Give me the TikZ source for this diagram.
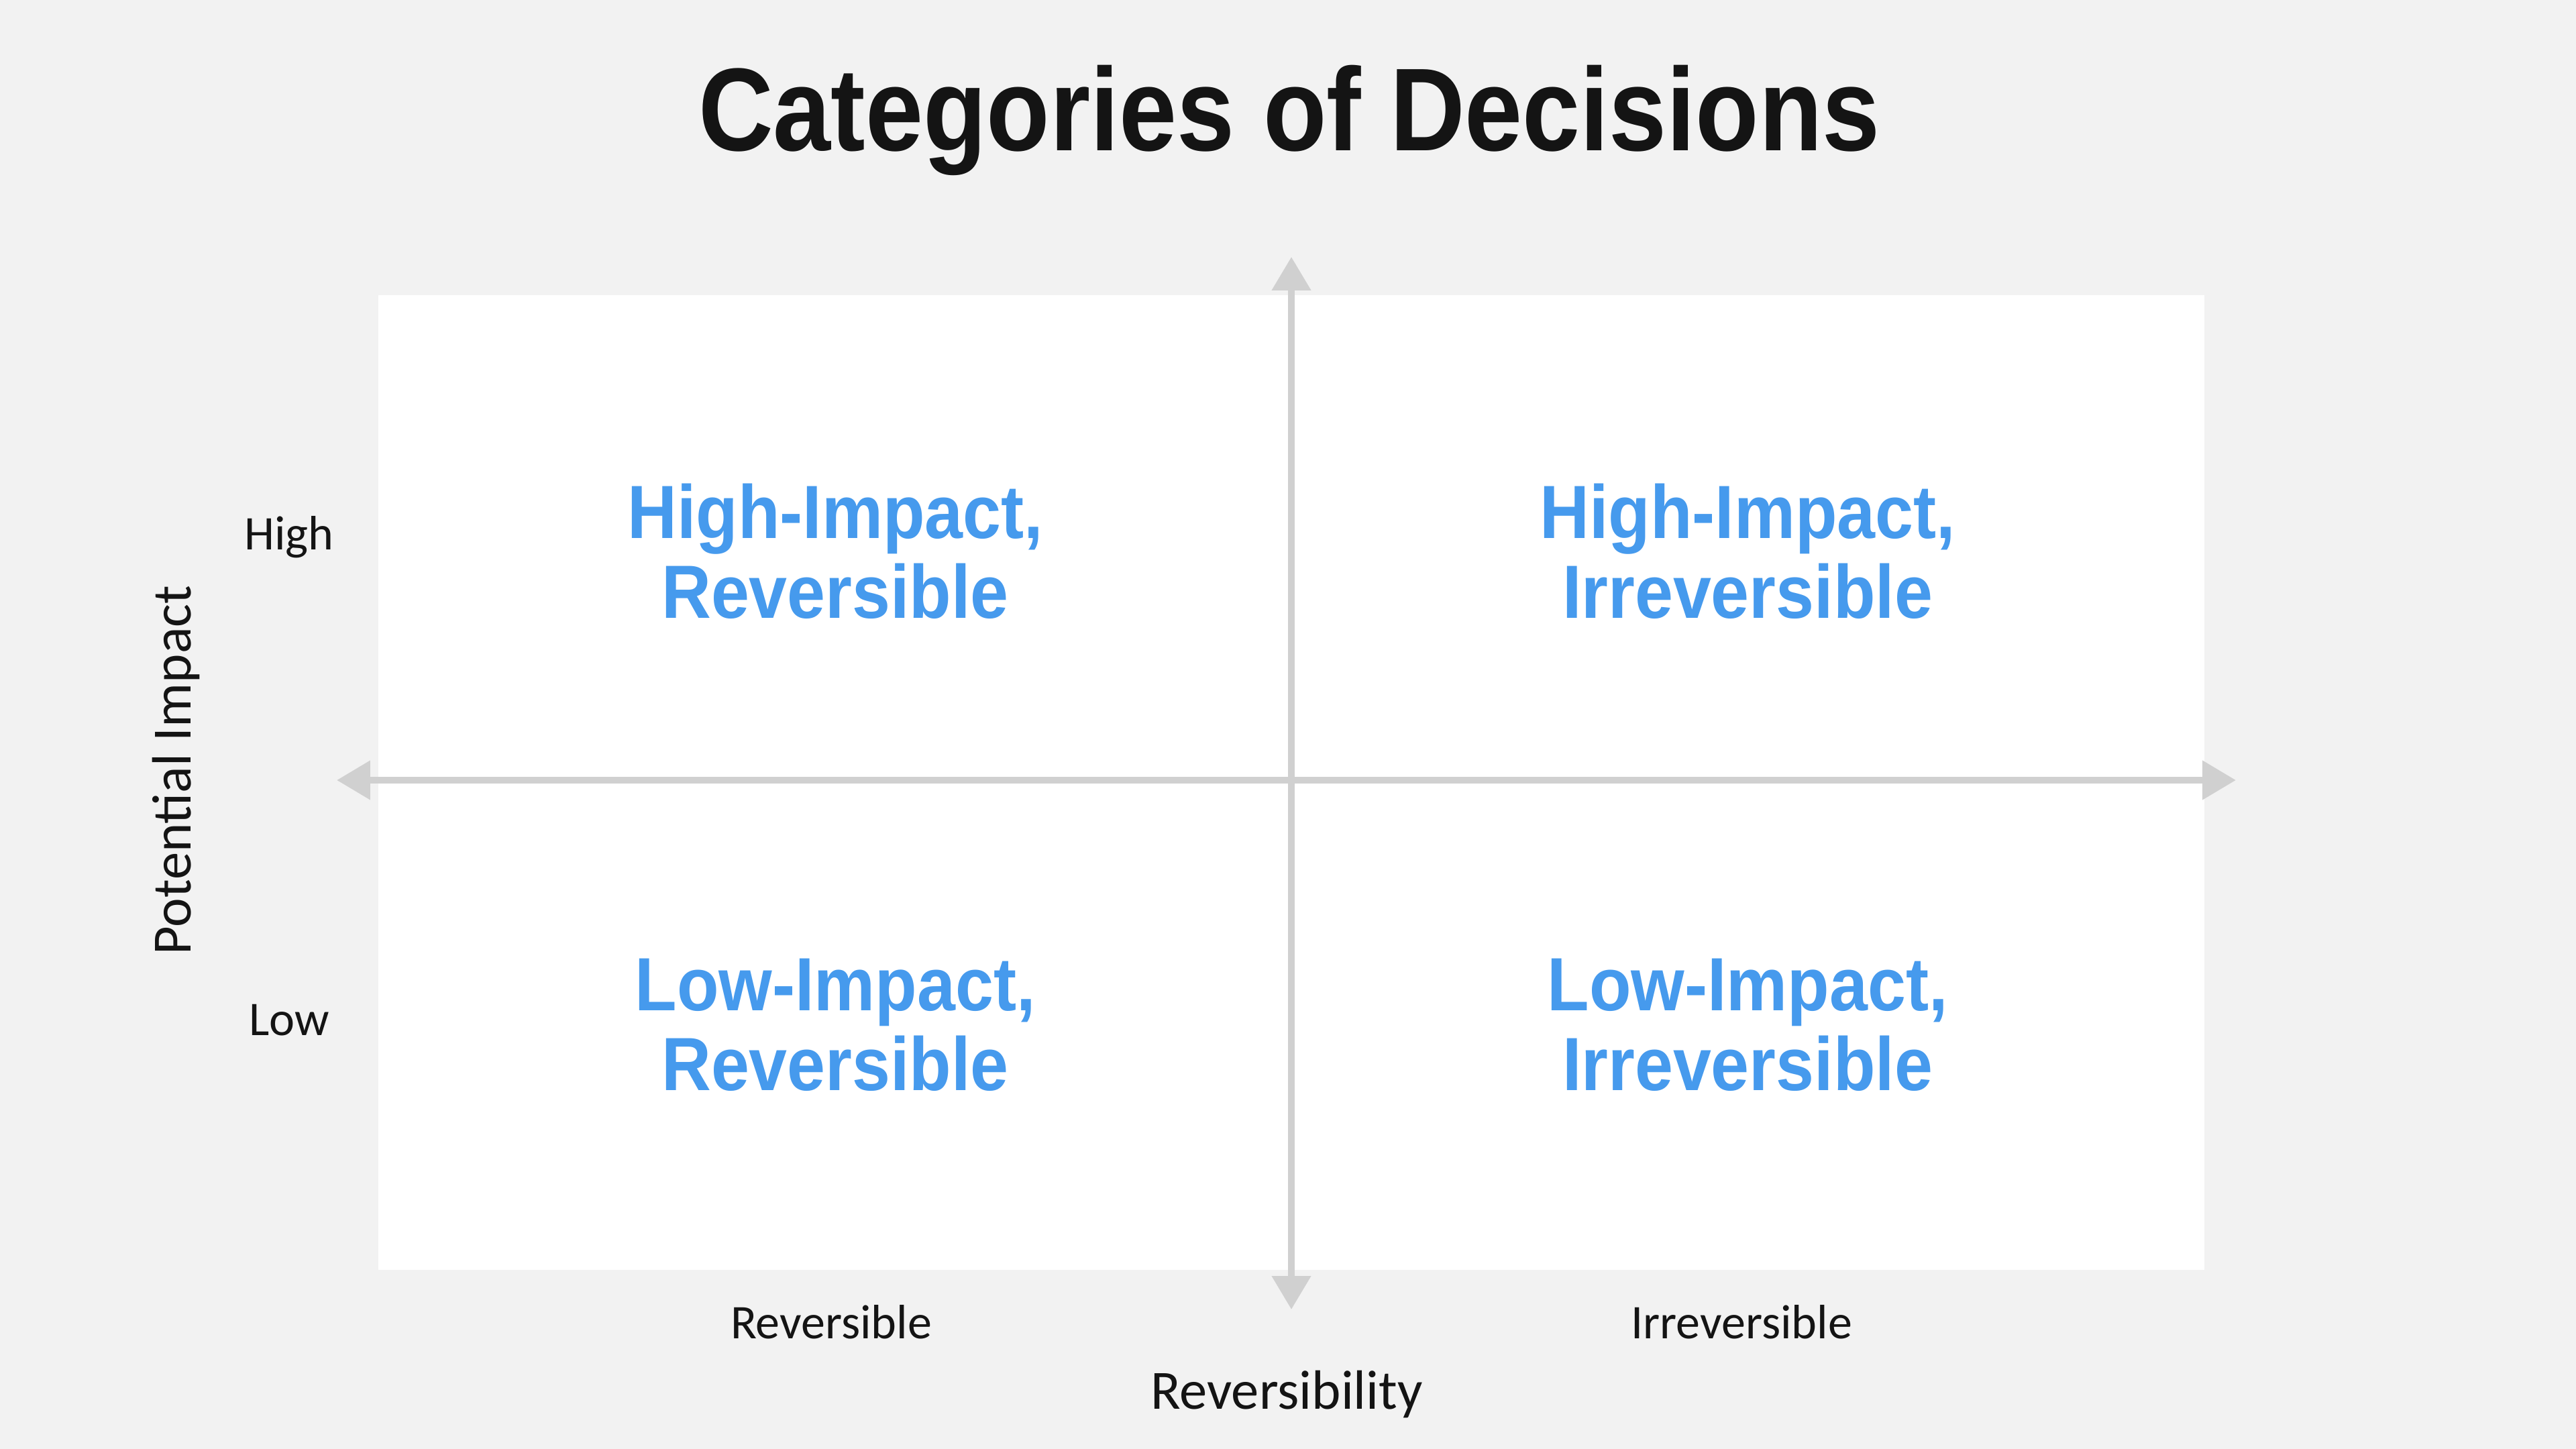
\documentclass[tikz,border=0pt]{standalone}
\usepackage{fontspec}
\setmainfont{Carlito}
\newfontfamily\headfont[FakeStretch=0.88]{Liberation Sans}
\newfontfamily\quadfont[FakeStretch=0.91]{Liberation Sans}
\usetikzlibrary{arrows.meta}

\definecolor{pagegray}{HTML}{F2F2F2}
\definecolor{axisgray}{HTML}{D0D0D0}
\definecolor{quadblue}{RGB}{70,154,237}
\definecolor{inkblack}{HTML}{141414}

\tikzset{
  quadtext/.style={text=quadblue, align=center,
    font=\quadfont\bfseries\fontsize{32}{34}\selectfont},
  axislabel/.style={text=inkblack, font=\fontsize{20.5}{24}\selectfont},
  axistitle/.style={text=inkblack, font=\fontsize{23.5}{28}\selectfont},
  axisline/.style={draw=axisgray, line width=2.85pt,
    {Triangle[length=14.2pt,width=16pt]}-{Triangle[length=14.2pt,width=16pt]}},
}

\begin{document}
\begin{tikzpicture}
  % page
  \fill[pagegray] (0,0) rectangle (38.4,21.6);
  \useasboundingbox (0,0) rectangle (38.4,21.6);

  \node[anchor=base, text=inkblack, font=\headfont\bfseries\fontsize{50}{56}\selectfont]
    (title) at (19.22,19.35) {Categories of Decisions};

  % the grid
  \node[fill=white, inner sep=0pt, minimum width=27.22cm, minimum height=14.53cm]
    (board) at (19.25,9.935) {};

  \coordinate (up) at (19.25,17.77);
  \coordinate (down) at (19.25,2.08);
  \coordinate (left) at (5.02,9.97);
  \coordinate (right) at (33.33,9.97);
  \draw[axisline] (down) -- (up);
  \draw[axisline] (left) -- (right);

  \node[quadtext] (hirev) at (12.45,13.38) {High-Impact,\\Reversible};
  \node[quadtext] (hiirr) at (26.05,13.38) {High-Impact,\\Irreversible};
  \node[quadtext] (lorev) at (12.45,6.32) {Low-Impact,\\Reversible};
  \node[quadtext] (loirr) at (26.05,6.32) {Low-Impact,\\Irreversible};

  % axis labels
  \node[axislabel, anchor=base] (high) at (4.31,13.40) {High};
  \node[axislabel, anchor=base] (low) at (4.31,6.16) {Low};
  \node[axistitle, rotate=90] (impact) at (2.62,10.12) {Potential Impact};
  \node[axislabel, anchor=base] (rev) at (12.39,1.64) {Reversible};
  \node[axislabel, anchor=base] (irr) at (25.96,1.64) {Irreversible};
  \node[axistitle, anchor=base] (revaxis) at (19.18,0.59) {Reversibility};
\end{tikzpicture}
\end{document}
